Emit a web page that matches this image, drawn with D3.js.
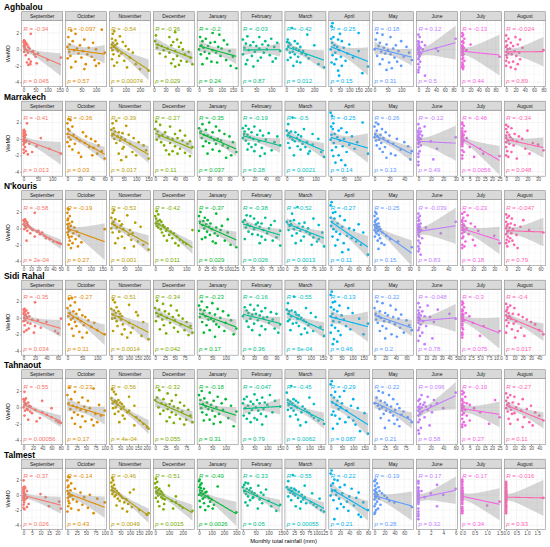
<!DOCTYPE html>
<html><head><meta charset="utf-8">
<script src="https://cdn.jsdelivr.net/npm/d3@7/dist/d3.min.js"></script>
<style>
body{margin:0;background:#fff;}
svg{display:block;}
text{font-family:"Liberation Sans",Arial,Helvetica,sans-serif;}
</style></head><body>
<svg id="chart" width="550" height="547"></svg>
<script>
const months = ["September","October","November","December","January","February","March","April","May","June","July","August"];
const monthColors = ["#F8766D","#DE8C00","#B79F00","#7CAE00","#00BA38","#00C08B","#00BFC4","#00B4F0","#619CFF","#C77CFF","#F564E3","#FF64B0"];
const stations = ["Aghbalou","Marrakech","N'kouris","Sidi Rahal","Tahnaout","Talmest"];
const yTickValues = [-4,-2,0,2];

// WeMO index values per month (shared by all stations)
const wemoSep=[1.9,1.1,1.0,0.9,0.8,0.7,0.6,0.5,0.4,0.3,0.2,0.1,0.0,-0.1,-0.2,-0.3,-0.3,-0.4,-0.5,-0.6,-0.7,-0.9,-1.0,-1.2,-1.3,-1.5,-1.6,-1.7,-1.8,-1.9];
const wemoOct=[2.4,2.3,1.9,1.5,1.2,1.0,0.8,0.6,0.5,0.3,0.2,0.1,0.0,-0.1,-0.2,-0.3,-0.4,-0.5,-0.6,-0.8,-0.9,-1.0,-1.1,-1.3,-1.5,-1.7,-1.8,-2.0,-2.2,-2.4];
const wemoNov=[2.2,1.9,1.6,1.3,1.1,0.9,0.8,0.7,0.6,0.5,0.4,0.3,0.2,0.1,0.0,-0.1,-0.2,-0.4,-0.5,-0.6,-0.8,-1.0,-1.2,-1.4,-1.6,-1.8,-2.0,-2.2,-2.4,-2.6];
const wemoDec=[2.1,1.7,1.5,1.2,1.0,0.9,0.8,0.6,0.5,0.4,0.3,0.2,0.1,0.0,-0.1,-0.2,-0.3,-0.4,-0.5,-0.6,-0.8,-0.9,-1.0,-1.2,-1.4,-1.5,-1.7,-1.8,-1.9,-2.1];
const wemoJan=[2.0,1.8,1.5,1.3,1.1,1.0,0.9,0.8,0.6,0.5,0.4,0.3,0.2,0.1,0.0,-0.1,-0.2,-0.3,-0.4,-0.5,-0.6,-0.8,-0.9,-1.1,-1.3,-1.5,-1.6,-1.8,-2.0,-2.3];
const wemoFeb=[1.6,1.5,1.3,1.2,1.0,0.9,0.8,0.7,0.6,0.5,0.5,0.4,0.3,0.2,0.1,0.0,-0.1,-0.2,-0.3,-0.4,-0.6,-0.7,-0.8,-1.0,-1.1,-1.3,-1.4,-1.5,-1.8,-2.1];
const wemoMar=[2.6,1.8,1.2,1.0,0.9,0.8,0.7,0.6,0.5,0.4,0.3,0.2,0.1,0.0,-0.1,-0.2,-0.3,-0.4,-0.5,-0.6,-0.7,-0.9,-1.0,-1.1,-1.3,-1.5,-1.6,-1.8,-2.0,-2.2];
const wemoApr=[3.2,2.8,2.0,1.9,1.5,1.3,1.2,1.0,0.8,0.6,0.5,0.3,0.2,0.0,-0.1,-0.2,-0.4,-0.5,-0.7,-0.9,-1.0,-1.2,-1.4,-1.6,-1.8,-2.0,-2.1,-2.6,-2.9,-3.2];
const wemoMay=[2.0,1.8,1.5,1.2,1.0,0.8,0.6,0.5,0.4,0.3,0.2,0.1,0.0,-0.1,-0.2,-0.3,-0.4,-0.5,-0.6,-0.8,-0.9,-1.0,-1.2,-1.3,-1.5,-1.6,-1.8,-2.0,-2.3,-2.5];
const wemoJun=[1.8,1.5,1.3,1.0,0.9,0.8,0.6,0.5,0.4,0.3,0.2,0.1,0.1,0.0,0.0,-0.1,-0.2,-0.3,-0.4,-0.5,-0.6,-0.8,-1.0,-1.2,-1.5,-1.8,-2.2,-2.5,-2.8,-3.2];
const wemoJul=[2.0,1.8,1.6,1.3,1.0,0.9,0.8,0.6,0.5,0.4,0.3,0.2,0.1,0.0,-0.1,-0.2,-0.3,-0.4,-0.6,-0.7,-0.9,-1.0,-1.2,-1.4,-1.6,-1.8,-2.0,-2.1,-2.2,-2.4];
const wemoAug=[1.7,1.5,1.3,1.2,1.0,0.8,0.6,0.5,0.4,0.3,0.2,0.1,0.0,-0.1,-0.2,-0.3,-0.4,-0.5,-0.6,-0.7,-0.8,-1.0,-1.2,-1.4,-1.5,-1.6,-1.8,-2.0,-2.2,-2.4];
const wemoByMonth=[wemoSep,wemoOct,wemoNov,wemoDec,wemoJan,wemoFeb,wemoMar,wemoApr,wemoMay,wemoJun,wemoJul,wemoAug];

// Monthly total rainfall (mm) per station, Sep..Aug, aligned with the WeMO arrays
const rainAghbalou=[
[30,2,5,0,10,3,15,8,1,20,4,25,6,12,40,35,2,18,60,45,9,50,155,22,100,30,14,55,28,20],
[120,15,30,5,60,20,90,10,45,2,75,35,100,25,55,8,130,40,70,12,85,50,3,95,30,110,65,100,15,60],
[20,10,60,5,30,80,12,40,3,25,100,18,0,35,120,8,45,150,70,15,55,130,5,90,40,170,20,110,200,260],
[55,5,40,60,3,50,70,10,45,20,65,8,35,75,25,55,90,40,15,80,60,30,95,50,70,85,45,100,65,55],
[60,90,5,30,110,15,70,50,125,10,40,85,20,100,0,60,135,25,75,45,8,95,150,35,120,55,80,15,140,165],
[20,60,100,5,80,40,120,15,70,90,30,50,110,10,60,85,25,130,45,75,5,95,35,65,115,20,55,105,15,40],
[40,150,10,60,5,20,80,30,200,15,100,50,70,3,90,120,45,25,110,60,140,85,30,160,10,75,100,230,50,270],
[10,5,150,50,15,3,40,60,8,100,20,35,70,0,45,150,25,90,10,55,120,30,80,5,20,60,200,40,170,45],
[10,30,60,5,100,20,45,80,15,120,35,70,0,50,90,25,130,40,60,10,110,75,30,140,85,55,20,100,65,45],
[0,3,85,0,8,1,0,15,2,0,5,40,0,1,10,0,45,2,0,6,0,3,1,0,4,0,2,0,0,15],
[0,2,0,5,1,0,3,20,0,1,0,4,0,2,10,0,1,0,3,0,90,2,0,5,0,1,0,3,0,2],
[0,20,5,30,0,10,25,2,15,0,35,8,3,80,18,0,28,5,12,0,22,2,30,0,15,6,25,0,10,20]];
const rainMarrakech=[
[12,2,0,5,1,3,0,8,2,0,4,60,1,0,10,3,0,6,2,20,0,45,5,90,0,8,30,1,130,15],
[2,5,0,8,1,3,25,0,10,30,2,15,38,5,20,45,0,28,12,50,3,35,42,8,55,18,48,40,22,60],
[20,5,60,10,0,15,30,45,8,70,3,25,40,90,12,55,35,110,20,75,130,50,45,140,85,30,100,60,150,40],
[2,10,30,0,50,5,20,40,15,60,8,25,45,35,3,55,70,12,30,65,18,40,75,50,22,35,60,45,28,70],
[30,10,50,0,20,60,5,40,75,15,25,90,35,8,55,45,65,20,100,30,50,70,12,85,40,60,110,25,95,80],
[5,20,0,10,30,3,15,45,2,25,8,35,60,12,0,18,40,5,28,55,10,22,65,15,33,8,50,20,38,30],
[20,5,60,0,15,30,8,90,40,3,50,12,35,110,20,45,28,70,5,55,90,38,65,10,48,80,120,75,25,130],
[0,5,120,10,2,40,8,30,60,15,3,80,25,50,0,35,100,12,70,45,20,90,5,60,140,30,10,40,18,55],
[2,5,0,10,3,15,1,8,20,4,0,12,30,6,2,18,40,9,25,3,45,14,7,35,50,11,22,28,16,48],
[0,5,1,0,2,0,1,0,3,0,30,0,1,0,2,0,0,10,1,0,0,2,0,15,1,0,0,12,0,0],
[0,0,1,0,0,2,0,0,1,0,0,0,3,0,0,1,0,0,0,0,0,5,12,0,1,14,0,25,8,0],
[0,2,5,0,20,1,8,3,0,12,4,0,15,6,2,10,0,25,3,30,7,0,18,35,1,5,22,0,2,10]];
const rainNkouris=[
[15,2,0,3,1,5,4,0,6,2,8,3,10,1,12,20,5,18,25,9,22,28,15,30,35,4,40,45,48,50],
[2,5,0,10,3,1,20,8,0,15,4,30,2,160,12,6,40,0,25,3,50,18,7,35,10,60,22,5,45,15],
[10,5,60,0,15,30,8,90,3,40,12,35,110,20,0,45,70,30,5,80,65,40,25,75,100,15,120,85,50,140],
[5,10,0,3,15,8,20,2,12,25,5,30,10,40,18,120,35,50,22,60,45,28,70,55,80,38,90,65,100,75],
[5,60,0,20,100,30,15,3,40,25,12,80,35,60,18,45,75,0,28,100,55,38,65,22,10,90,48,58,110,130],
[10,20,60,30,5,85,0,40,50,12,35,75,20,45,8,70,30,55,100,15,65,25,40,50,90,5,60,80,45,100],
[30,15,75,20,10,0,50,35,12,90,8,45,30,60,20,5,38,55,100,28,65,15,48,75,90,40,85,25,70,105],
[2,0,10,5,20,0,8,30,3,15,60,1,25,40,6,50,12,70,20,35,4,45,15,55,28,65,10,38,25,80],
[2,5,0,8,3,1,10,4,0,6,12,2,7,15,0,9,3,20,5,11,30,1,14,40,8,60,18,25,95,10],
[0,2,0,1,0,50,3,0,1,0,2,0,10,0,1,0,4,0,2,0,30,0,1,5,0,2,0,1,0,3],
[2,0,5,1,0,3,0,8,1,0,2,12,0,4,1,0,15,2,0,6,30,1,0,10,3,35,0,12,2,0],
[0,5,2,10,30,0,8,3,15,1,25,6,0,12,40,4,2,65,9,0,18,3,7,1,11,5,0,14,2,20]];
const rainSidiRahal=[
[20,2,0,5,3,1,8,0,4,2,10,6,1,65,15,3,25,0,40,7,12,2,20,30,9,5,55,1,18,60],
[15,5,25,10,0,40,20,8,30,50,3,60,18,35,12,70,45,25,90,5,55,30,80,15,100,40,65,125,20,50],
[10,20,100,30,0,15,40,140,25,50,8,150,60,45,20,5,55,30,180,100,65,35,120,75,10,110,60,170,90,210],
[5,20,40,0,10,55,25,3,35,15,60,8,45,30,70,18,50,2,80,38,65,22,90,48,12,75,58,95,28,85],
[10,50,0,30,70,5,20,90,40,15,60,110,25,3,80,45,35,120,55,12,100,65,28,75,140,40,95,18,130,60],
[20,40,5,60,30,10,50,75,15,35,90,25,45,0,65,55,20,80,40,10,70,30,100,50,15,85,60,25,95,45],
[30,5,80,0,20,10,35,100,8,40,50,18,120,60,45,12,70,5,80,40,25,90,50,140,75,15,110,85,60,155],
[5,0,20,10,40,2,80,15,30,100,8,50,0,25,130,60,12,40,170,5,70,20,90,35,0,150,45,15,30,10],
[5,15,30,0,40,10,20,2,50,25,8,35,12,45,3,60,18,28,6,38,65,15,48,22,70,10,55,32,42,20],
[0,12,2,25,0,5,1,40,0,3,8,0,15,1,0,48,2,0,6,20,0,3,10,1,0,5,2,18,0,8],
[0,0.2,0,0.5,0,0.1,0,1,0,0.3,0,2,0,0.1,0,0,0.5,0,3,0,0,6,0,0.2,10.5,0,0,0,5,0],
[0,5,2,10,1,0,3,8,15,0,4,20,2,6,25,0,12,30,3,9,35,1,18,7,40,14,0,45,22,11]];
const rainTahnaout=[
[2,5,0,3,40,1,10,4,6,2,12,15,0,60,7,25,9,3,14,40,18,50,2,60,35,10,70,28,75,80],
[5,70,20,0,40,10,55,30,3,85,15,45,25,60,8,35,100,50,18,75,28,90,40,12,65,48,80,20,70,35],
[5,15,25,100,0,40,20,30,50,8,60,35,130,70,25,10,55,100,40,90,20,65,140,75,160,45,180,130,200,210],
[10,30,50,5,20,0,40,60,15,35,25,70,45,8,55,30,80,20,65,40,12,50,85,35,60,75,28,90,45,70],
[10,40,0,70,20,100,5,55,30,85,15,45,120,25,65,8,35,90,50,140,12,75,28,60,110,40,18,80,55,130],
[50,110,20,80,10,60,130,35,90,5,70,45,100,25,150,55,15,85,40,65,120,30,75,8,95,50,20,60,35,80],
[20,0,100,30,5,40,15,50,25,120,8,35,70,45,20,80,5,30,90,65,100,40,110,15,120,50,140,85,165,60],
[5,0,60,20,3,40,15,100,30,8,50,25,90,45,120,35,70,12,150,5,20,80,40,100,65,30,110,10,130,165],
[10,20,35,5,45,15,25,0,55,30,8,40,18,60,12,50,28,70,38,22,65,45,80,15,55,35,90,48,60,25],
[60,5,15,2,25,0,10,30,3,8,20,1,12,0,5,40,2,15,0,6,22,3,0,10,2,0,18,4,0,1],
[0,1,0,2,0,22,0,1,3,0,5,0,1,0,8,0,2,0,12,1,0,3,25,0,5,1,18,0,2,0],
[0,5,10,2,20,0,8,3,15,1,30,4,12,0,25,6,18,2,35,10,7,40,22,3,14,45,28,5,32,20]];
const rainTalmest=[
[0,0.5,0,1,0,0.2,0,2,0,0.3,0,10,1,0,0.5,0,13,2,0,1,0,21,0.3,3,0,15,2,0,22,0.5],
[2,5,0,10,3,1,20,8,0,35,4,2,60,12,6,45,1,80,15,3,25,100,5,40,2,55,10,30,0,70],
[5,10,0,15,3,8,20,120,2,30,12,100,40,6,25,50,18,60,35,80,45,70,90,28,110,60,150,85,200,190],
[5,15,0,100,10,3,30,20,40,8,50,12,35,60,22,150,45,5,55,70,120,20,150,65,180,30,200,130,60,270],
[5,0,20,10,150,3,15,40,8,25,60,50,12,35,0,20,70,45,80,30,100,5,90,40,120,75,10,110,50,300],
[10,20,5,60,0,30,15,90,25,5,8,35,70,45,12,80,55,20,40,38,65,28,100,10,75,145,18,110,58,130],
[20,5,60,0,15,25,8,30,18,40,12,85,22,50,28,5,60,38,110,55,15,48,80,65,90,30,100,45,115,125],
[2,0,8,15,5,30,1,20,45,10,3,60,25,12,0,40,55,18,6,35,70,22,50,28,14,80,38,60,65,8],
[2,0,5,1,8,3,0,10,2,4,15,0,6,20,1,3,25,9,0,30,5,40,2,12,0,75,7,3,1,0],
[0,0,3,0,0,6,0,0.5,0,0,2,0,0,4,0,0,0,1,0,0,0,0,0,0,3,0,0,0,0,0],
[0,0,0,0,0,0,0,0,0,0,0,0,0,0,0,0,0,0,0,0,1.5,0,0,1.0,0,0,0,0,0,0],
[0,0,0,0,0,0,0,0,0,0,0,0,0,0,0,0,1.8,0,0,0,0,0,0,0,0,0,0,0,0,0]];

// x tick labels per station (Sep..Aug)
const ticksAghbalou=[["0","50","100","150"],["0","50","100"],["0","100","200"],["0","30","60","90"],["0","50","100","150"],["0","50","100"],["0","100","200"],["0","50","100","150","200"],["0","50","100"],["0","20","40","60","80"],["0","20","40","60","80"],["0","20","40","60","80"]];
const ticksMarrakech=[["0","50","100"],["0","20","40","60"],["0","50","100","150"],["0","20","40","60"],["0","30","60","90"],["0","20","40","60"],["0","50","100"],["0","50","100"],["0","20","40"],["0","10","20","30"],["0","5","10","15","20","25"],["0","10","20","30"]];
const ticksNkouris=[["0","10","20","30","40","50"],["0","50","100","150"],["0","50","100"],["0","50","100"],["0","25","50","75","100","125"],["0","25","50","75","100"],["0","25","50","75","100"],["0","20","40","60","80"],["0","30","60","90"],["0","20","40"],["0","10","20","30"],["0","20","40","60"]];
const ticksSidiRahal=[["0","20","40","60"],["0","50","100"],["0","50","100","150","200"],["0","25","50","75"],["0","50","100"],["0","30","60","90"],["0","50","100","150"],["0","50","100","150"],["0","20","40","60"],["0","10","20","30","40","50"],["0.0","2.5","5.0","7.5","10.0"],["0","10","20","30","40"]];
const ticksTahnaout=[["0","20","40","60","80"],["0","25","50","75","100"],["0","50","100","150","200"],["0","25","50","75"],["0","50","100"],["0","50","100","150"],["0","50","100","150"],["0","50","100","150"],["0","25","50","75"],["0","20","40","60"],["0","5","10","15","20","25"],["0","10","20","30","40"]];
const ticksTalmest=[["0","5","10","15","20"],["0","25","50","75","100"],["0","50","100","150","200"],["0","100","200"],["0","100","200","300"],["0","50","100","150"],["0","25","50","75","100","125"],["0","20","40","60","80"],["0","20","40","60"],["0","2","4","6"],["0.0","0.5","1.0","1.5"],["0.0","0.5","1.0","1.5"]];

// correlation labels
const rAghbalou=["-0.34","-0.097","-0.54","-0.36","-0.2","-0.03","-0.42","-0.25","-0.18","0.12","-0.13","-0.024"];
const pAghbalou=["0.045","0.57","0.00074","0.029","0.24","0.87","0.012","0.15","0.31","0.5","0.44","0.89"];
const rMarrakech=["-0.41","-0.36","-0.39","-0.27","-0.35","-0.19","-0.5","-0.25","-0.26","-0.12","-0.46","-0.34"];
const pMarrakech=["0.013","0.03","0.017","0.11","0.037","0.28","0.0021","0.14","0.13","0.49","0.0056","0.048"];
const rNkouris=["-0.58","-0.19","-0.53","-0.42","-0.37","-0.38","-0.52","-0.27","-0.25","-0.039","-0.23","-0.047"];
const pNkouris=["2e-04","0.27","0.001","0.011","0.029","0.026","0.0013","0.11","0.15","0.83","0.18","0.79"];
const rSidiRahal=["-0.35","-0.27","-0.51","-0.34","-0.23","-0.16","-0.55","-0.13","-0.22","-0.048","-0.3","-0.4"];
const pSidiRahal=["0.034","0.11","0.0014","0.042","0.17","0.36","6e-04","0.46","0.2","0.78","0.075","0.017"];
const rTahnaout=["-0.55","-0.23","-0.56","-0.32","-0.18","-0.047","-0.45","-0.29","-0.22","0.096","-0.19","-0.27"];
const pTahnaout=["0.00056","0.17","4e-04","0.055","0.31","0.79","0.0062","0.087","0.21","0.58","0.27","0.11"];
const rTalmest=["-0.37","-0.14","-0.46","-0.51","-0.49","-0.33","-0.55","-0.22","-0.19","0.17","-0.17","-0.016"];
const pTalmest=["0.026","0.43","0.0049","0.0015","0.0026","0.05","0.00055","0.21","0.28","0.32","0.34","0.93"];

const rainRows=[rainAghbalou,rainMarrakech,rainNkouris,rainSidiRahal,rainTahnaout,rainTalmest];
const tickRows=[ticksAghbalou,ticksMarrakech,ticksNkouris,ticksSidiRahal,ticksTahnaout,ticksTalmest];
const rRows=[rAghbalou,rMarrakech,rNkouris,rSidiRahal,rTahnaout,rTalmest];
const pRows=[pAghbalou,pMarrakech,pNkouris,pSidiRahal,pTahnaout,pTalmest];

// layout
const left0=21.7, colStep=43.87, panelW=41, rowStep=89.5;
const stripTop=11.7, stripH=9, panelTop=20.7;
const tq=2.048;
const FONT='"Liberation Sans",Arial,sans-serif';

const svg=d3.select("#chart");
svg.append("rect").attr("width",550).attr("height",547).attr("fill","#fff");
const defs=svg.append("defs");

function styleAxis(g){
  g.select(".domain").remove();
  g.attr("font-size",4.5).attr("font-family",FONT);
  g.selectAll(".tick line").attr("stroke","#333").attr("stroke-width",0.5);
  g.selectAll(".tick text").attr("fill","#4D4D4D");
}

stations.forEach((st,r)=>{
  const y0=r*rowStep;
  const panelH=(r===stations.length-1)?61.3:66;
  const yS=d3.scaleLinear().domain([-4.55,3.5]).range([y0+panelTop+panelH,y0+panelTop]);
  svg.append("text").attr("x",4).attr("y",y0+10.2).attr("font-size",8.4).attr("font-weight","bold").attr("fill","#000").text(st);
  svg.append("text").attr("transform",`translate(7.6,${y0+panelTop+panelH/2}) rotate(-90)`)
    .attr("text-anchor","middle").attr("dominant-baseline","central").attr("font-size",5.6).attr("fill","#000").text("WeMO");
  const ya=svg.append("g").attr("transform",`translate(${left0},0)`)
    .call(d3.axisLeft(yS).tickValues(yTickValues).tickSize(1.5).tickPadding(1.3).tickFormat(d=>d<0?"-"+Math.abs(d):String(d)));
  styleAxis(ya);

  months.forEach((m,c)=>{
    const col=monthColors[c];
    const x0=left0+c*colStep;
    const xs=rainRows[r][c], ys=wemoByMonth[c];
    const n=Math.min(xs.length,ys.length);
    const pts=d3.range(n).map(i=>[xs[i],ys[i]]);
    const [mn,mx]=d3.extent(pts,d=>d[0]);
    const sp=(mx-mn)||1;
    const xS=d3.scaleLinear().domain([mn-0.05*sp,mx+0.05*sp]).range([x0,x0+panelW]);
    const tLab=tickRows[r][c], tVal=tLab.map(Number);
    const pTop=y0+panelTop, pBot=y0+panelTop+panelH;
    const cid=`clip-${r}-${c}`;
    defs.append("clipPath").attr("id",cid).append("rect").attr("x",x0).attr("y",pTop).attr("width",panelW).attr("height",panelH);

    const g=svg.append("g");
    g.append("rect").attr("x",x0).attr("y",pTop).attr("width",panelW).attr("height",panelH).attr("fill","#fff");
    // grid
    const dom=xS.domain();
    const xMinor=[];
    for(let i=0;i<tVal.length-1;i++) xMinor.push((tVal[i]+tVal[i+1])/2);
    if(tVal.length>1){const st2=tVal[1]-tVal[0]; const a=tVal[tVal.length-1]+st2/2; if(a<dom[1]) xMinor.push(a); const b=tVal[0]-st2/2; if(b>dom[0]) xMinor.push(b);}
    const gridG=g.append("g").attr("clip-path",`url(#${cid})`);
    gridG.selectAll("line.xmin").data(xMinor).join("line").attr("x1",d=>xS(d)).attr("x2",d=>xS(d)).attr("y1",pTop).attr("y2",pBot).attr("stroke","#F3F3F3").attr("stroke-width",0.3);
    gridG.selectAll("line.ymin").data([-3,-1,1,3]).join("line").attr("x1",x0).attr("x2",x0+panelW).attr("y1",d=>yS(d)).attr("y2",d=>yS(d)).attr("stroke","#F3F3F3").attr("stroke-width",0.3);
    gridG.selectAll("line.xmaj").data(tVal).join("line").attr("x1",d=>xS(d)).attr("x2",d=>xS(d)).attr("y1",pTop).attr("y2",pBot).attr("stroke","#EBEBEB").attr("stroke-width",0.5);
    gridG.selectAll("line.ymaj").data(yTickValues).join("line").attr("x1",x0).attr("x2",x0+panelW).attr("y1",d=>yS(d)).attr("y2",d=>yS(d)).attr("stroke","#EBEBEB").attr("stroke-width",0.5);

    const pg=g.append("g").attr("clip-path",`url(#${cid})`);
    pg.selectAll("circle").data(pts).join("circle").attr("cx",d=>xS(d[0])).attr("cy",d=>yS(d[1])).attr("r",1.35).attr("fill",col);

    // linear fit + 95% CI
    const mxv=d3.mean(pts,d=>d[0]), myv=d3.mean(pts,d=>d[1]);
    const sxx=d3.sum(pts,d=>(d[0]-mxv)**2), sxy=d3.sum(pts,d=>(d[0]-mxv)*(d[1]-myv));
    const b=sxy/sxx, a=myv-b*mxv;
    const sse=d3.sum(pts,d=>(d[1]-a-b*d[0])**2);
    const s=Math.sqrt(sse/(n-2));
    const band=d3.range(81).map(k=>{const x=mn+(mx-mn)*k/80; const yh=a+b*x; const se=s*Math.sqrt(1/n+(x-mxv)**2/sxx); return {x,yh,lo:yh-tq*se,hi:yh+tq*se};});
    pg.append("path").datum(band).attr("d",d3.area().x(d=>xS(d.x)).y0(d=>yS(d.lo)).y1(d=>yS(d.hi))).attr("fill","#999999").attr("fill-opacity",0.4);
    pg.append("path").datum(band).attr("d",d3.line().x(d=>xS(d.x)).y(d=>yS(d.yh))).attr("fill","none").attr("stroke",col).attr("stroke-width",1.1);

    // labels
    const rt=g.append("text").attr("x",xS(mn)).attr("y",yS(2.5)).attr("dominant-baseline","central").attr("font-size",6).attr("fill",col);
    rt.append("tspan").attr("font-style","italic").text("R");
    rt.append("tspan").text(" = "+rRows[r][c]);
    const pt=g.append("text").attr("x",xS(mn)).attr("y",yS(-3.85)).attr("dominant-baseline","central").attr("font-size",6).attr("fill",col);
    pt.append("tspan").attr("font-style","italic").text("p");
    pt.append("tspan").text(" = "+pRows[r][c]);

    // border
    g.append("rect").attr("x",x0).attr("y",pTop).attr("width",panelW).attr("height",panelH).attr("fill","none").attr("stroke","#8A8A8A").attr("stroke-width",0.6);
    // strip
    g.append("rect").attr("x",x0).attr("y",y0+stripTop).attr("width",panelW).attr("height",stripH).attr("fill","#D9D9D9").attr("stroke","#8A8A8A").attr("stroke-width",0.6);
    g.append("text").attr("x",x0+panelW/2).attr("y",y0+stripTop+stripH/2).attr("text-anchor","middle").attr("dominant-baseline","central").attr("font-size",5).attr("fill","#1A1A1A").text(m);

    // x axis
    const xa=svg.append("g").attr("transform",`translate(0,${pBot})`)
      .call(d3.axisBottom(xS).tickValues(tVal).tickFormat((d,i)=>tLab[i]).tickSize(1.4).tickPadding(0.5));
    styleAxis(xa);
  });
});

svg.append("text").attr("x",left0+(11*colStep+panelW)/2).attr("y",543).attr("text-anchor","middle").attr("font-size",5.8).attr("fill","#000").text("Monthly total rainfall (mm)");
</script>
</body></html>
